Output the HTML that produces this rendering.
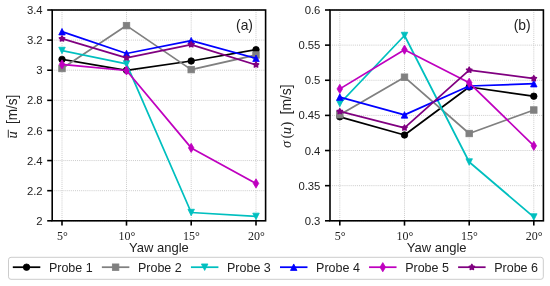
<!DOCTYPE html>
<html><head><meta charset="utf-8"><style>
html,body{margin:0;padding:0;background:#fff;}
svg{display:block;will-change:transform;}
.g{stroke:#cbcbcb;stroke-width:1;stroke-dasharray:1 1.07;}
text{font-family:"Liberation Sans",sans-serif;fill:#222;}
.yt{font-size:11.3px;text-anchor:end;}
.xt{font-family:"Liberation Serif",serif;font-size:12px;text-anchor:middle;}
.xl{font-size:13px;text-anchor:middle;}
.tag{font-size:13.9px;text-anchor:end;}
.yl{font-size:14.5px;}
.mi{font-family:"Liberation Serif",serif;font-style:italic;font-size:14.5px;}
.mr{font-style:normal;}
.lg{font-size:12.5px;}
</style></head><body>
<svg width="550" height="286" viewBox="0 0 550 286">
<rect width="550" height="286" fill="#fff"/>
<line x1="62.0" y1="10.0" x2="62.0" y2="220.8" class="g"/>
<line x1="126.5" y1="10.0" x2="126.5" y2="220.8" class="g"/>
<line x1="191.2" y1="10.0" x2="191.2" y2="220.8" class="g"/>
<line x1="256.0" y1="10.0" x2="256.0" y2="220.8" class="g"/>
<line x1="52.2" y1="10.00" x2="265.6" y2="10.00" class="g"/>
<line x1="52.2" y1="40.11" x2="265.6" y2="40.11" class="g"/>
<line x1="52.2" y1="70.23" x2="265.6" y2="70.23" class="g"/>
<line x1="52.2" y1="100.34" x2="265.6" y2="100.34" class="g"/>
<line x1="52.2" y1="130.46" x2="265.6" y2="130.46" class="g"/>
<line x1="52.2" y1="160.57" x2="265.6" y2="160.57" class="g"/>
<line x1="52.2" y1="190.69" x2="265.6" y2="190.69" class="g"/>
<line x1="52.2" y1="220.80" x2="265.6" y2="220.80" class="g"/>
<polyline points="62.00,59.40 126.50,70.30 191.20,61.00 256.00,49.70" fill="none" stroke="#000000" stroke-width="1.75" stroke-linejoin="round" stroke-linecap="square"/>
<circle cx="62.00" cy="59.40" r="3.25" fill="#000000" stroke="#000000" stroke-width="0.8" stroke-linejoin="miter"/>
<circle cx="126.50" cy="70.30" r="3.25" fill="#000000" stroke="#000000" stroke-width="0.8" stroke-linejoin="miter"/>
<circle cx="191.20" cy="61.00" r="3.25" fill="#000000" stroke="#000000" stroke-width="0.8" stroke-linejoin="miter"/>
<circle cx="256.00" cy="49.70" r="3.25" fill="#000000" stroke="#000000" stroke-width="0.8" stroke-linejoin="miter"/>
<polyline points="62.00,68.50 126.50,25.60 191.20,69.60 256.00,55.00" fill="none" stroke="#808080" stroke-width="1.75" stroke-linejoin="round" stroke-linecap="square"/>
<rect x="58.75" y="65.25" width="6.50" height="6.50" fill="#808080" stroke="#808080" stroke-width="0.8" stroke-linejoin="miter"/>
<rect x="123.25" y="22.35" width="6.50" height="6.50" fill="#808080" stroke="#808080" stroke-width="0.8" stroke-linejoin="miter"/>
<rect x="187.95" y="66.35" width="6.50" height="6.50" fill="#808080" stroke="#808080" stroke-width="0.8" stroke-linejoin="miter"/>
<rect x="252.75" y="51.75" width="6.50" height="6.50" fill="#808080" stroke="#808080" stroke-width="0.8" stroke-linejoin="miter"/>
<polyline points="62.00,50.50 126.50,63.90 191.20,212.50 256.00,216.40" fill="none" stroke="#00bfbf" stroke-width="1.75" stroke-linejoin="round" stroke-linecap="square"/>
<polygon points="62.00,53.75 58.75,47.25 65.25,47.25" fill="#00bfbf" stroke="#00bfbf" stroke-width="0.8" stroke-linejoin="miter"/>
<polygon points="126.50,67.15 123.25,60.65 129.75,60.65" fill="#00bfbf" stroke="#00bfbf" stroke-width="0.8" stroke-linejoin="miter"/>
<polygon points="191.20,215.75 187.95,209.25 194.45,209.25" fill="#00bfbf" stroke="#00bfbf" stroke-width="0.8" stroke-linejoin="miter"/>
<polygon points="256.00,219.65 252.75,213.15 259.25,213.15" fill="#00bfbf" stroke="#00bfbf" stroke-width="0.8" stroke-linejoin="miter"/>
<polyline points="62.00,31.70 126.50,53.50 191.20,40.70 256.00,58.30" fill="none" stroke="#0000ff" stroke-width="1.75" stroke-linejoin="round" stroke-linecap="square"/>
<polygon points="62.00,28.45 58.75,34.95 65.25,34.95" fill="#0000ff" stroke="#0000ff" stroke-width="0.8" stroke-linejoin="miter"/>
<polygon points="126.50,50.25 123.25,56.75 129.75,56.75" fill="#0000ff" stroke="#0000ff" stroke-width="0.8" stroke-linejoin="miter"/>
<polygon points="191.20,37.45 187.95,43.95 194.45,43.95" fill="#0000ff" stroke="#0000ff" stroke-width="0.8" stroke-linejoin="miter"/>
<polygon points="256.00,55.05 252.75,61.55 259.25,61.55" fill="#0000ff" stroke="#0000ff" stroke-width="0.8" stroke-linejoin="miter"/>
<polyline points="62.00,64.40 126.50,70.50 191.20,147.90 256.00,183.40" fill="none" stroke="#bf00bf" stroke-width="1.75" stroke-linejoin="round" stroke-linecap="square"/>
<polygon points="62.00,59.80 64.76,64.40 62.00,69.00 59.24,64.40" fill="#bf00bf" stroke="#bf00bf" stroke-width="0.8" stroke-linejoin="miter"/>
<polygon points="126.50,65.90 129.26,70.50 126.50,75.10 123.74,70.50" fill="#bf00bf" stroke="#bf00bf" stroke-width="0.8" stroke-linejoin="miter"/>
<polygon points="191.20,143.30 193.96,147.90 191.20,152.50 188.44,147.90" fill="#bf00bf" stroke="#bf00bf" stroke-width="0.8" stroke-linejoin="miter"/>
<polygon points="256.00,178.80 258.76,183.40 256.00,188.00 253.24,183.40" fill="#bf00bf" stroke="#bf00bf" stroke-width="0.8" stroke-linejoin="miter"/>
<polyline points="62.00,38.70 126.50,57.80 191.20,44.60 256.00,64.80" fill="none" stroke="#800080" stroke-width="1.75" stroke-linejoin="round" stroke-linecap="square"/>
<polygon points="62.00,35.78 61.05,37.40 59.22,37.80 60.47,39.20 60.28,41.07 62.00,40.31 63.72,41.07 63.53,39.20 64.78,37.80 62.95,37.40" fill="#800080" stroke="#800080" stroke-width="1.3" stroke-linejoin="round"/>
<polygon points="126.50,54.88 125.55,56.50 123.72,56.90 124.97,58.30 124.78,60.17 126.50,59.41 128.22,60.17 128.03,58.30 129.28,56.90 127.45,56.50" fill="#800080" stroke="#800080" stroke-width="1.3" stroke-linejoin="round"/>
<polygon points="191.20,41.68 190.25,43.30 188.42,43.70 189.67,45.10 189.48,46.97 191.20,46.21 192.92,46.97 192.73,45.10 193.98,43.70 192.15,43.30" fill="#800080" stroke="#800080" stroke-width="1.3" stroke-linejoin="round"/>
<polygon points="256.00,61.88 255.05,63.50 253.22,63.90 254.47,65.30 254.28,67.17 256.00,66.41 257.72,67.17 257.53,65.30 258.78,63.90 256.95,63.50" fill="#800080" stroke="#800080" stroke-width="1.3" stroke-linejoin="round"/>
<rect x="52.2" y="10.0" width="213.40" height="210.80" fill="none" stroke="#000" stroke-width="1.6"/>
<line x1="47.2" y1="10.00" x2="52.2" y2="10.00" stroke="#000" stroke-width="1.6"/>
<text x="42.6" y="14.05" class="yt">3.4</text>
<line x1="47.2" y1="40.11" x2="52.2" y2="40.11" stroke="#000" stroke-width="1.6"/>
<text x="42.6" y="44.16" class="yt">3.2</text>
<line x1="47.2" y1="70.23" x2="52.2" y2="70.23" stroke="#000" stroke-width="1.6"/>
<text x="42.6" y="74.28" class="yt">3</text>
<line x1="47.2" y1="100.34" x2="52.2" y2="100.34" stroke="#000" stroke-width="1.6"/>
<text x="42.6" y="104.39" class="yt">2.8</text>
<line x1="47.2" y1="130.46" x2="52.2" y2="130.46" stroke="#000" stroke-width="1.6"/>
<text x="42.6" y="134.51" class="yt">2.6</text>
<line x1="47.2" y1="160.57" x2="52.2" y2="160.57" stroke="#000" stroke-width="1.6"/>
<text x="42.6" y="164.62" class="yt">2.4</text>
<line x1="47.2" y1="190.69" x2="52.2" y2="190.69" stroke="#000" stroke-width="1.6"/>
<text x="42.6" y="194.74" class="yt">2.2</text>
<line x1="47.2" y1="220.80" x2="52.2" y2="220.80" stroke="#000" stroke-width="1.6"/>
<text x="42.6" y="224.85" class="yt">2</text>
<line x1="62.0" y1="220.8" x2="62.0" y2="225.60000000000002" stroke="#000" stroke-width="1.6"/>
<text x="62.30" y="239.5" class="xt">5°</text>
<line x1="126.5" y1="220.8" x2="126.5" y2="225.60000000000002" stroke="#000" stroke-width="1.6"/>
<text x="126.80" y="239.5" class="xt">10°</text>
<line x1="191.2" y1="220.8" x2="191.2" y2="225.60000000000002" stroke="#000" stroke-width="1.6"/>
<text x="191.50" y="239.5" class="xt">15°</text>
<line x1="256.0" y1="220.8" x2="256.0" y2="225.60000000000002" stroke="#000" stroke-width="1.6"/>
<text x="256.30" y="239.5" class="xt">20°</text>
<text x="158.90" y="251.5" class="xl">Yaw angle</text>
<text x="253.0" y="29.7" class="tag">(a)</text>
<line x1="339.8" y1="10.0" x2="339.8" y2="220.8" class="g"/>
<line x1="404.5" y1="10.0" x2="404.5" y2="220.8" class="g"/>
<line x1="469.2" y1="10.0" x2="469.2" y2="220.8" class="g"/>
<line x1="533.8" y1="10.0" x2="533.8" y2="220.8" class="g"/>
<line x1="330.0" y1="10.00" x2="543.4" y2="10.00" class="g"/>
<line x1="330.0" y1="45.13" x2="543.4" y2="45.13" class="g"/>
<line x1="330.0" y1="80.27" x2="543.4" y2="80.27" class="g"/>
<line x1="330.0" y1="115.40" x2="543.4" y2="115.40" class="g"/>
<line x1="330.0" y1="150.53" x2="543.4" y2="150.53" class="g"/>
<line x1="330.0" y1="185.67" x2="543.4" y2="185.67" class="g"/>
<line x1="330.0" y1="220.80" x2="543.4" y2="220.80" class="g"/>
<polyline points="339.80,116.80 404.50,135.00 469.20,87.00 533.80,96.20" fill="none" stroke="#000000" stroke-width="1.75" stroke-linejoin="round" stroke-linecap="square"/>
<circle cx="339.80" cy="116.80" r="3.25" fill="#000000" stroke="#000000" stroke-width="0.8" stroke-linejoin="miter"/>
<circle cx="404.50" cy="135.00" r="3.25" fill="#000000" stroke="#000000" stroke-width="0.8" stroke-linejoin="miter"/>
<circle cx="469.20" cy="87.00" r="3.25" fill="#000000" stroke="#000000" stroke-width="0.8" stroke-linejoin="miter"/>
<circle cx="533.80" cy="96.20" r="3.25" fill="#000000" stroke="#000000" stroke-width="0.8" stroke-linejoin="miter"/>
<polyline points="339.80,114.70 404.50,77.20 469.20,133.50 533.80,110.00" fill="none" stroke="#808080" stroke-width="1.75" stroke-linejoin="round" stroke-linecap="square"/>
<rect x="336.55" y="111.45" width="6.50" height="6.50" fill="#808080" stroke="#808080" stroke-width="0.8" stroke-linejoin="miter"/>
<rect x="401.25" y="73.95" width="6.50" height="6.50" fill="#808080" stroke="#808080" stroke-width="0.8" stroke-linejoin="miter"/>
<rect x="465.95" y="130.25" width="6.50" height="6.50" fill="#808080" stroke="#808080" stroke-width="0.8" stroke-linejoin="miter"/>
<rect x="530.55" y="106.75" width="6.50" height="6.50" fill="#808080" stroke="#808080" stroke-width="0.8" stroke-linejoin="miter"/>
<polyline points="339.80,103.50 404.50,35.50 469.20,162.00 533.80,217.00" fill="none" stroke="#00bfbf" stroke-width="1.75" stroke-linejoin="round" stroke-linecap="square"/>
<polygon points="339.80,106.75 336.55,100.25 343.05,100.25" fill="#00bfbf" stroke="#00bfbf" stroke-width="0.8" stroke-linejoin="miter"/>
<polygon points="404.50,38.75 401.25,32.25 407.75,32.25" fill="#00bfbf" stroke="#00bfbf" stroke-width="0.8" stroke-linejoin="miter"/>
<polygon points="469.20,165.25 465.95,158.75 472.45,158.75" fill="#00bfbf" stroke="#00bfbf" stroke-width="0.8" stroke-linejoin="miter"/>
<polygon points="533.80,220.25 530.55,213.75 537.05,213.75" fill="#00bfbf" stroke="#00bfbf" stroke-width="0.8" stroke-linejoin="miter"/>
<polyline points="339.80,97.10 404.50,114.90 469.20,86.00 533.80,83.70" fill="none" stroke="#0000ff" stroke-width="1.75" stroke-linejoin="round" stroke-linecap="square"/>
<polygon points="339.80,93.85 336.55,100.35 343.05,100.35" fill="#0000ff" stroke="#0000ff" stroke-width="0.8" stroke-linejoin="miter"/>
<polygon points="404.50,111.65 401.25,118.15 407.75,118.15" fill="#0000ff" stroke="#0000ff" stroke-width="0.8" stroke-linejoin="miter"/>
<polygon points="469.20,82.75 465.95,89.25 472.45,89.25" fill="#0000ff" stroke="#0000ff" stroke-width="0.8" stroke-linejoin="miter"/>
<polygon points="533.80,80.45 530.55,86.95 537.05,86.95" fill="#0000ff" stroke="#0000ff" stroke-width="0.8" stroke-linejoin="miter"/>
<polyline points="339.80,88.90 404.50,49.70 469.20,82.80 533.80,145.80" fill="none" stroke="#bf00bf" stroke-width="1.75" stroke-linejoin="round" stroke-linecap="square"/>
<polygon points="339.80,84.30 342.56,88.90 339.80,93.50 337.04,88.90" fill="#bf00bf" stroke="#bf00bf" stroke-width="0.8" stroke-linejoin="miter"/>
<polygon points="404.50,45.10 407.26,49.70 404.50,54.30 401.74,49.70" fill="#bf00bf" stroke="#bf00bf" stroke-width="0.8" stroke-linejoin="miter"/>
<polygon points="469.20,78.20 471.96,82.80 469.20,87.40 466.44,82.80" fill="#bf00bf" stroke="#bf00bf" stroke-width="0.8" stroke-linejoin="miter"/>
<polygon points="533.80,141.20 536.56,145.80 533.80,150.40 531.04,145.80" fill="#bf00bf" stroke="#bf00bf" stroke-width="0.8" stroke-linejoin="miter"/>
<polyline points="339.80,111.40 404.50,127.90 469.20,70.10 533.80,78.50" fill="none" stroke="#800080" stroke-width="1.75" stroke-linejoin="round" stroke-linecap="square"/>
<polygon points="339.80,108.48 338.85,110.10 337.02,110.50 338.27,111.90 338.08,113.77 339.80,113.01 341.52,113.77 341.33,111.90 342.58,110.50 340.75,110.10" fill="#800080" stroke="#800080" stroke-width="1.3" stroke-linejoin="round"/>
<polygon points="404.50,124.98 403.55,126.60 401.72,127.00 402.97,128.40 402.78,130.27 404.50,129.51 406.22,130.27 406.03,128.40 407.28,127.00 405.45,126.60" fill="#800080" stroke="#800080" stroke-width="1.3" stroke-linejoin="round"/>
<polygon points="469.20,67.17 468.25,68.80 466.42,69.20 467.67,70.60 467.48,72.47 469.20,71.71 470.92,72.47 470.73,70.60 471.98,69.20 470.15,68.80" fill="#800080" stroke="#800080" stroke-width="1.3" stroke-linejoin="round"/>
<polygon points="533.80,75.58 532.85,77.20 531.02,77.60 532.27,79.00 532.08,80.87 533.80,80.11 535.52,80.87 535.33,79.00 536.58,77.60 534.75,77.20" fill="#800080" stroke="#800080" stroke-width="1.3" stroke-linejoin="round"/>
<rect x="330.0" y="10.0" width="213.40" height="210.80" fill="none" stroke="#000" stroke-width="1.6"/>
<line x1="325.0" y1="10.00" x2="330.0" y2="10.00" stroke="#000" stroke-width="1.6"/>
<text x="320.4" y="14.05" class="yt">0.6</text>
<line x1="325.0" y1="45.13" x2="330.0" y2="45.13" stroke="#000" stroke-width="1.6"/>
<text x="320.4" y="49.18" class="yt">0.55</text>
<line x1="325.0" y1="80.27" x2="330.0" y2="80.27" stroke="#000" stroke-width="1.6"/>
<text x="320.4" y="84.32" class="yt">0.5</text>
<line x1="325.0" y1="115.40" x2="330.0" y2="115.40" stroke="#000" stroke-width="1.6"/>
<text x="320.4" y="119.45" class="yt">0.45</text>
<line x1="325.0" y1="150.53" x2="330.0" y2="150.53" stroke="#000" stroke-width="1.6"/>
<text x="320.4" y="154.58" class="yt">0.4</text>
<line x1="325.0" y1="185.67" x2="330.0" y2="185.67" stroke="#000" stroke-width="1.6"/>
<text x="320.4" y="189.72" class="yt">0.35</text>
<line x1="325.0" y1="220.80" x2="330.0" y2="220.80" stroke="#000" stroke-width="1.6"/>
<text x="320.4" y="224.85" class="yt">0.3</text>
<line x1="339.8" y1="220.8" x2="339.8" y2="225.60000000000002" stroke="#000" stroke-width="1.6"/>
<text x="340.10" y="239.5" class="xt">5°</text>
<line x1="404.5" y1="220.8" x2="404.5" y2="225.60000000000002" stroke="#000" stroke-width="1.6"/>
<text x="404.80" y="239.5" class="xt">10°</text>
<line x1="469.2" y1="220.8" x2="469.2" y2="225.60000000000002" stroke="#000" stroke-width="1.6"/>
<text x="469.50" y="239.5" class="xt">15°</text>
<line x1="533.8" y1="220.8" x2="533.8" y2="225.60000000000002" stroke="#000" stroke-width="1.6"/>
<text x="534.10" y="239.5" class="xt">20°</text>
<text x="436.70" y="251.5" class="xl">Yaw angle</text>
<text x="530.7" y="29.7" class="tag">(b)</text>
<g transform="translate(16.6,137.9) rotate(-90)">
<text x="-0.6" y="0" class="mi">u</text>
<line x1="0.2" y1="-8.3" x2="8.2" y2="-8.3" stroke="#000" stroke-width="0.8"/>
<text x="13.9" y="0" class="yl" textLength="29.3" lengthAdjust="spacingAndGlyphs">[m/s]</text>
</g>
<g transform="translate(290.6,147.7) rotate(-90)">
<text x="-0.4" y="0" class="mi">σ</text>
<text x="9.3" y="0" class="mi mr">(</text>
<text x="13.4" y="0" class="mi">u</text>
<text x="21.3" y="0" class="mi mr">)</text>
<text x="33.3" y="0" class="yl" textLength="30" lengthAdjust="spacingAndGlyphs">[m/s]</text>
</g>
<rect x="8.5" y="257.3" width="534.8" height="22.0" rx="2.5" ry="2.5" fill="#fff" stroke="#cccccc" stroke-width="1"/>
<line x1="12.80" y1="267.2" x2="40.30" y2="267.2" stroke="#000000" stroke-width="1.75" stroke-linecap="butt"/>
<circle cx="26.55" cy="267.20" r="3.25" fill="#000000" stroke="#000000" stroke-width="0.8" stroke-linejoin="miter"/>
<text x="48.90" y="271.7" class="lg">Probe 1</text>
<line x1="101.86" y1="267.2" x2="129.36" y2="267.2" stroke="#808080" stroke-width="1.75" stroke-linecap="butt"/>
<rect x="112.36" y="263.95" width="6.50" height="6.50" fill="#808080" stroke="#808080" stroke-width="0.8" stroke-linejoin="miter"/>
<text x="137.96" y="271.7" class="lg">Probe 2</text>
<line x1="190.92" y1="267.2" x2="218.42" y2="267.2" stroke="#00bfbf" stroke-width="1.75" stroke-linecap="butt"/>
<polygon points="204.67,270.45 201.42,263.95 207.92,263.95" fill="#00bfbf" stroke="#00bfbf" stroke-width="0.8" stroke-linejoin="miter"/>
<text x="227.02" y="271.7" class="lg">Probe 3</text>
<line x1="279.98" y1="267.2" x2="307.48" y2="267.2" stroke="#0000ff" stroke-width="1.75" stroke-linecap="butt"/>
<polygon points="293.73,263.95 290.48,270.45 296.98,270.45" fill="#0000ff" stroke="#0000ff" stroke-width="0.8" stroke-linejoin="miter"/>
<text x="316.08" y="271.7" class="lg">Probe 4</text>
<line x1="369.04" y1="267.2" x2="396.54" y2="267.2" stroke="#bf00bf" stroke-width="1.75" stroke-linecap="butt"/>
<polygon points="382.79,262.60 385.55,267.20 382.79,271.80 380.03,267.20" fill="#bf00bf" stroke="#bf00bf" stroke-width="0.8" stroke-linejoin="miter"/>
<text x="405.14" y="271.7" class="lg">Probe 5</text>
<line x1="458.10" y1="267.2" x2="485.60" y2="267.2" stroke="#800080" stroke-width="1.75" stroke-linecap="butt"/>
<polygon points="471.85,264.27 470.90,265.90 469.07,266.30 470.32,267.70 470.13,269.57 471.85,268.81 473.57,269.57 473.38,267.70 474.63,266.30 472.80,265.90" fill="#800080" stroke="#800080" stroke-width="1.3" stroke-linejoin="round"/>
<text x="494.20" y="271.7" class="lg">Probe 6</text>
</svg>
</body></html>
